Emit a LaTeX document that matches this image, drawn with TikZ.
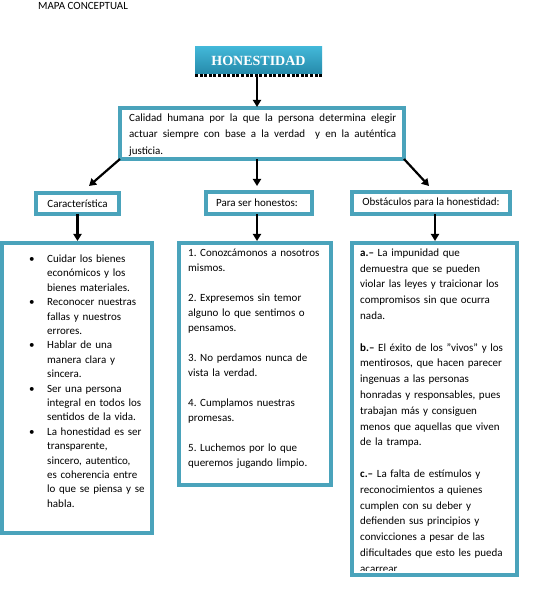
\documentclass[tikz,border=0pt]{standalone}
\usepackage{fontspec}
\setmainfont{Carlito}
\newfontfamily\titlefont{Liberation Serif}
\usetikzlibrary{arrows.meta}
\frenchspacing

\definecolor{boxteal}{RGB}{74,163,187}
\definecolor{titletop}{RGB}{66,183,216}
\definecolor{titlebottom}{RGB}{38,138,170}

% one bullet of the list, with hanging indent
\newcommand{\caritem}[1]{\par\hangindent=18pt\hangafter=1\noindent\strut\makebox[18pt][l]{\textbullet}#1\par}

\begin{document}
\begin{tikzpicture}[x=1pt, y=-1pt,
    box/.style={draw=boxteal, line width=3.5pt, fill=white, inner sep=0pt, outer sep=0pt, anchor=north west},
    titlebox/.style={inner sep=0pt, outer sep=0pt, anchor=north west, top color=titletop, bottom color=titlebottom,
        text=white, font={\titlefont\fontsize{14}{14}\selectfont\bfseries}},
    label/.style={font={\fontsize{11}{13}\selectfont}},
    txt/.style={inner sep=0pt, anchor=north west, align=left},
    arr/.style={-{Triangle[width=8pt,length=7pt]}, line width=2.2pt, black}]

    % page
    \path[use as bounding box, fill=white] (0,0) rectangle (532,593);

    % heading --  --  --  --  --  --  --  --  --  --  --  --  --  --
    \node[label, anchor=base west, inner sep=0pt] (head) at (38,9.5) {MAPA CONCEPTUAL};

    % title box
    \node[titlebox, minimum width=127pt, minimum height=27pt] (hon) at (195,47) {HONESTIDAD};
    \draw[line width=3pt, dash pattern=on 3pt off 1.6pt] ([yshift=-1.5pt]hon.south west) -- ([yshift=-1.5pt]hon.south east);

    % definition
    \node[box, minimum width=284pt, minimum height=51pt] (def) at (120,108) {};
    \node[txt, align=justify, text width=267pt, font={\fontsize{11}{16.5}\selectfont}] (deftxt) at (129,109.5)
        {\strut Calidad humana por la que la persona determina elegir\linebreak
         actuar siempre con base a la verdad\ \ y en la auténtica\linebreak
         justicia.};
    %  --  --  --  --  --  --  --  --  --  --  --  --  --  --  --  --

    % second row --  --  --  --  --  --  --  --  --  --  --  --  --  -
    \node[box, minimum width=83pt, minimum height=21pt] (car) at (36,193) {};
    \node[label] (cartxt) at (car.center) {Característica};

    \node[box, minimum width=106pt, minimum height=22pt] (para) at (206,192) {};
    \node[label] (paratxt) at ([xshift=-2pt]para.center) {Para ser honestos:};

    \node[box, minimum width=158pt, minimum height=22pt] (obs) at (352,192) {};
    \node[label] (obstxt) at (obs.center) {Obstáculos para la honestidad:};
    %  --  --  --  --  --  --  --  --  --  --  --  --  --  --  --  --

    % third row --  --  --  --  --  --  --  --  --  --  --  --  --  --
    % characteristics
    \node[box, minimum width=150pt, minimum height=290pt] (lbox) at (2,243) {};
    \node[txt, text width=118pt, font={\fontsize{11}{14.4}\selectfont}] (ltxt) at (29,247.9)
        {\caritem{Cuidar los bienes\newline económicos y los\newline bienes materiales.}
         \caritem{Reconocer nuestras\newline fallas y nuestros\newline errores.}
         \caritem{Hablar de una\newline manera clara y\newline sincera.}
         \caritem{Ser una persona\newline integral en todos los\newline sentidos de la vida.}
         \caritem{La honestidad es ser\newline transparente,\newline sincero, autentico,\newline es coherencia entre\newline lo que se piensa y se\newline habla.}};

    % how to be honest
    \node[box, minimum width=152pt, minimum height=242pt] (mbox) at (179,243) {};
    \node[txt, text width=140pt, font={\fontsize{11}{15}\selectfont}] (mtxt) at (188,245.5)
        {\strut 1. Conozcámonos a nosotros\\mismos.\\[15pt]
         2. Expresemos sin temor\\alguno lo que sentimos o\\pensamos.\\[15pt]
         3. No perdamos nunca de\\vista la verdad.\\[15pt]
         4. Cumplamos nuestras\\promesas.\\[15pt]
         5. Luchemos por lo que\\queremos jugando limpio.};

    % obstacles
    \node[box, minimum width=165pt, minimum height=332pt] (rbox) at (352,243) {};
    \begin{scope}
        \clip (354,245) rectangle (515,570.5);
        \node[txt, text width=152pt, font={\fontsize{11}{15.8}\selectfont}] (rtxt) at (360,245)
            {\strut\textbf{a.--} La impunidad que\\demuestra que se pueden\\violar las leyes y traicionar los\\compromisos sin que ocurra\\nada.\\[15.8pt]
             \textbf{b.--} El éxito de los "vivos" y los\\mentirosos, que hacen parecer\\ingenuas a las personas\\honradas y responsables, pues\\trabajan más y consiguen\\menos que aquellas que viven\\de la trampa.\\[15.8pt]
             \textbf{c.--} La falta de estímulos y\\reconocimientos a quienes\\cumplen con su deber y\\defienden sus principios y\\convicciones a pesar de las\\dificultades que esto les pueda\\acarrear};
    \end{scope}
    %  --  --  --  --  --  --  --  --  --  --  --  --  --  --  --  --

    % arrows --  --  --  --  --  --  --  --  --  --  --  --  --  --  -
    \draw[arr] ([xshift=-1.5pt]hon.south) -- ([xshift=-5pt,yshift=1pt]def.north);
    \draw[arr] (def.south west) -- ([xshift=11.5pt,yshift=7pt]car.north);
    \draw[arr] ([xshift=-5pt]def.south) -- ([xshift=-2pt,yshift=6pt]para.north);
    \draw[arr] (def.south east) -- ([xshift=-2pt,yshift=6pt]obs.north);

    \draw[arr] (car.south) -- ([xshift=0.5pt,yshift=2pt]lbox.north);
    \draw[arr] ([xshift=-2pt]para.south) -- ([xshift=2pt,yshift=2pt]mbox.north);
    \draw[arr] ([xshift=4pt]obs.south) -- ([xshift=0.5pt,yshift=2pt]rbox.north);
    %  --  --  --  --  --  --  --  --  --  --  --  --  --  --  --  --
\end{tikzpicture}
\end{document}
